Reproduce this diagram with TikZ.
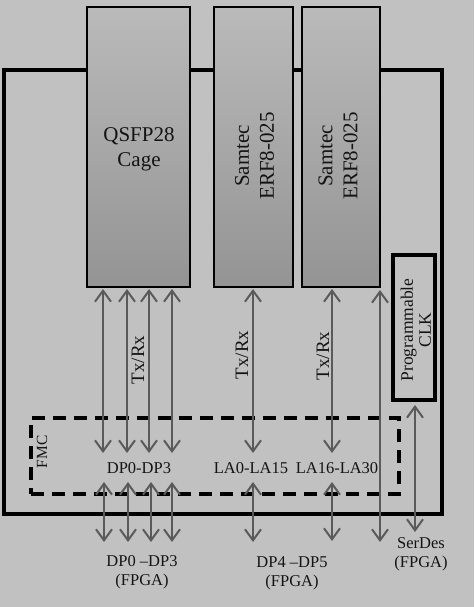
\documentclass[tikz,border=0pt]{standalone}
\usepackage{fontspec}
\setmainfont{Liberation Serif}
\usetikzlibrary{arrows.meta}
\definecolor{bg}{RGB}{193,193,193}
\definecolor{boxtop}{RGB}{186,186,186}
\definecolor{boxbot}{RGB}{148,148,148}
\definecolor{arr}{RGB}{90,90,90}
\definecolor{txt}{RGB}{20,20,20}
\tikzset{
  conn/.style={draw=black, line width=2.4pt, top color=boxtop, bottom color=boxbot, inner sep=0pt},
  board/.style={draw=black, line width=3.6pt, inner sep=0pt},
  clkbox/.style={draw=black, line width=3.6pt, fill=bg, inner sep=0pt},
  fmcbox/.style={draw=black, line width=3.6pt, dash pattern=on 13pt off 8pt, inner sep=0pt},
  biarrow/.style={draw=arr, line width=2pt, {Straight Barb[length=11pt,width=16pt]}-{Straight Barb[length=11pt,width=16pt]}},
  lbl/.style={text=txt, inner sep=0pt, font=\fontsize{16.5}{19}\selectfont, align=center},
  vlbl/.style={text=txt, inner sep=0pt, rotate=90, align=center},
}
\begin{document}
\begin{tikzpicture}[x=1pt,y=-1pt]
\useasboundingbox (0,0) rectangle (474,607);
\fill[bg] (0,0) rectangle (474,607);

% board and FMC
\node[board, minimum width=438pt, minimum height=444pt] (board) at (223,292) {};
\node[fmcbox, minimum width=368pt, minimum height=76pt] (fmc) at (215,456) {};
\node[vlbl, font=\fontsize{15.5}{18}\selectfont] (fmclbl) at (42,452) {FMC};

% connectors
\node[conn, minimum width=103pt, minimum height=280pt] (qsfp) at (138.5,147) {};
\node[lbl, font=\fontsize{21}{25}\selectfont] (qsfptxt) at (139,149) {QSFP28\\Cage};
\node[conn, minimum width=79pt, minimum height=280pt] (sam1) at (253.5,147) {};
\node[vlbl, font=\fontsize{21}{25}\selectfont] (sam1txt) at (254.5,156) {Samtec\\ERF8-025};
\node[conn, minimum width=78pt, minimum height=280pt] (sam2) at (341,147) {};
\node[vlbl, font=\fontsize{21}{25}\selectfont] (sam2txt) at (338,156) {Samtec\\ERF8-025};

% programmable clock
\node[clkbox, minimum width=42pt, minimum height=145pt] (clk) at (414,327.5) {};
\node[vlbl, font=\fontsize{17.5}{18}\selectfont] (clktxt) at (416,330) {Programmable\\CLK};

% inner labels
\node[lbl] (dp03) at (139,468) {DP0-DP3};
\node[lbl] (la015) at (251,468) {LA0-LA15};
\node[lbl] (la1630) at (337,468) {LA16-LA30};
\node[vlbl, font=\fontsize{19}{22}\selectfont] (tx1) at (138,360) {Tx/Rx};
\node[vlbl, font=\fontsize{19}{22}\selectfont] (tx2) at (242,355) {Tx/Rx};
\node[vlbl, font=\fontsize{19}{22}\selectfont] (tx3) at (323,356) {Tx/Rx};

% outer labels
\node[lbl] (fpga1) at (142,572) {DP0 –DP3\\(FPGA)};
\node[lbl] (fpga2) at (292,573) {DP4 –DP5\\(FPGA)};
\node[lbl] (fpga3) at (421,554.5) {SerDes\\(FPGA)};

% arrow end points
\foreach \n/\x in {1/103,2/127,3/149,4/172}{
  \coordinate (qt\n) at (\x,289);
  \coordinate (qb\n) at (\x,453);
}
\foreach \n/\x in {1/104,2/128,3/151,4/172}{
  \coordinate (dt\n) at (\x,482);
  \coordinate (db\n) at (\x,542);
}
\coordinate (s1t) at (253,289); \coordinate (s1b) at (253,453);
\coordinate (s2t) at (332,289); \coordinate (s2b) at (332,453);
\coordinate (l1t) at (253,482); \coordinate (l1b) at (253,542);
\coordinate (l2t) at (332,482); \coordinate (l2b) at (332,541);
\coordinate (rt) at (380,290); \coordinate (rb) at (380,542);
\coordinate (ct) at (415,405); \coordinate (cb) at (415,532);

\foreach \n in {1,...,4}{
  \draw[biarrow] (qt\n) -- (qb\n);
  \draw[biarrow] (dt\n) -- (db\n);
}
\draw[biarrow] (s1t) -- (s1b);
\draw[biarrow] (s2t) -- (s2b);
\draw[biarrow] (l1t) -- (l1b);
\draw[biarrow] (l2t) -- (l2b);
\draw[biarrow] (rt) -- (rb);
\draw[biarrow] (ct) -- (cb);
\end{tikzpicture}
\end{document}
